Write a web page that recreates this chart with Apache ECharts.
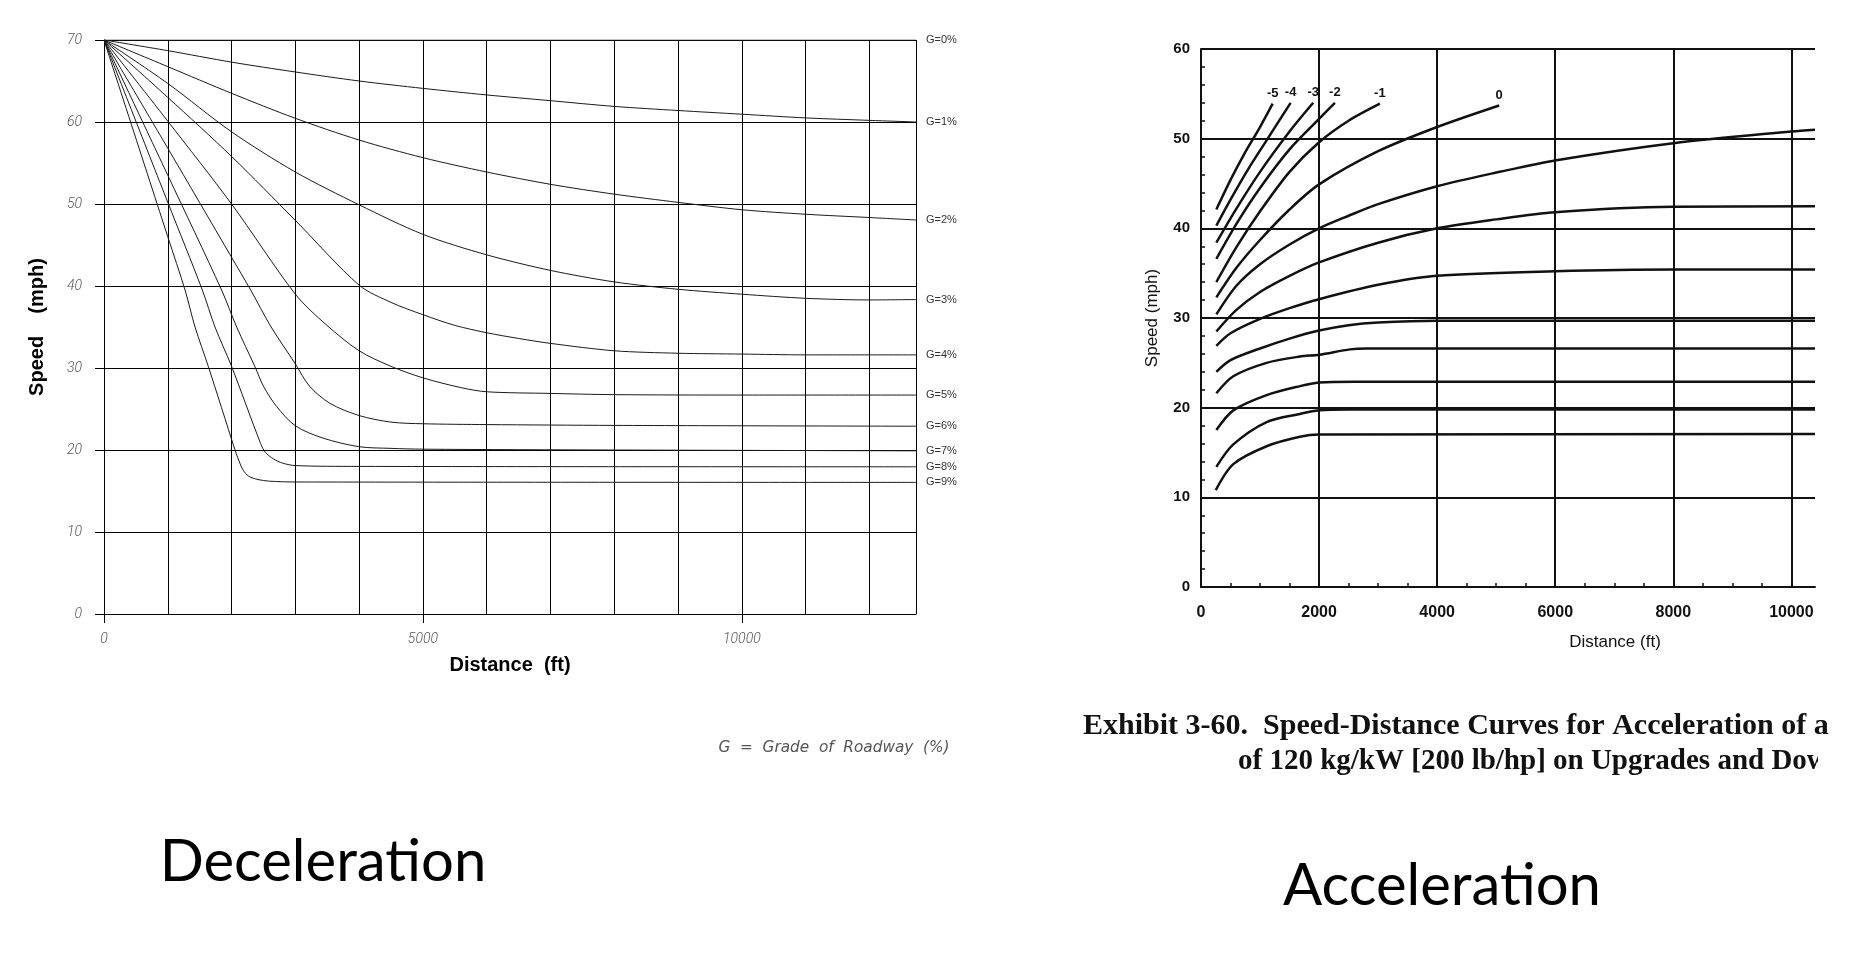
<!DOCTYPE html>
<html>
<head>
<meta charset="utf-8">
<script src="https://cdn.jsdelivr.net/npm/echarts@6/dist/echarts.min.js"></script>
<style>html,body{margin:0;padding:0;background:#fff}#c{width:1857px;height:953px}</style>
</head>
<body>
<div id="c"></div>
<script>
// ---------- Deceleration chart data (distance ft, speed mph) ----------
const decelLabelTicks = [0, 5000, 10000];
const decelNames = ['G=0%','G=1%','G=2%','G=3%','G=4%','G=5%','G=6%','G=7%','G=8%','G=9%'];
const decelG0 = [[0,70],[12730,70]];
const decelG1 = [[0,70],[1000,68.7],[2000,67.3],[3000,66.1],[4000,65.0],[5000,64.1],[6000,63.3],[7000,62.6],[8000,61.9],[9000,61.4],[10000,60.95],[11000,60.5],[12000,60.2],[12730,60.0]];
const decelG2 = [[0,70],[1000,66.75],[2000,63.5],[3000,60.45],[4000,57.8],[5000,55.65],[6000,53.9],[7000,52.4],[8000,51.2],[9000,50.2],[10000,49.3],[11000,48.75],[12000,48.35],[12730,48.05]];
const decelG3 = [[0,70],[1000,64.7],[2000,58.8],[3000,53.9],[4000,49.9],[5000,46.3],[6000,43.8],[7000,41.9],[8000,40.5],[9000,39.6],[10000,39.0],[11000,38.5],[12000,38.3],[12730,38.35]];
const decelG4 = [[0,70],[1000,63.0],[2000,55.8],[3000,48.0],[4000,40.1],[4500,38.0],[5000,36.5],[5500,35.2],[6000,34.3],[6500,33.6],[7000,33.0],[8000,32.1],[9000,31.8],[10000,31.7],[11000,31.6],[12730,31.6]];
const decelG5 = [[0,70],[1000,60.1],[2000,50.0],[3000,39.0],[3480,35.3],[4000,32.1],[4500,30.2],[5000,28.8],[5600,27.6],[6000,27.1],[7000,26.9],[8000,26.75],[10000,26.7],[12730,26.7]];
const decelG6 = [[0,70],[1000,56.8],[2000,43.5],[2300,39.5],[2620,35.0],[3000,30.5],[3220,27.8],[3540,25.7],[4000,24.2],[4500,23.4],[5000,23.2],[6000,23.1],[8000,23.0],[12730,22.9]];
const decelG7 = [[0,70],[1000,53.5],[1844,39.5],[2080,35.0],[2364,30.2],[2505,27.7],[2707,25.3],[3000,22.95],[3434,21.45],[4000,20.4],[4500,20.2],[5000,20.1],[8000,20.0],[12730,19.9]];
const decelG8 = [[0,70],[1000,50.2],[1542,39.5],[1740,35.0],[2000,30.2],[2455,20.8],[2530,19.7],[2660,18.9],[2800,18.4],[3000,18.1],[4000,18.0],[12730,17.95]];
const decelG9 = [[0,70],[1000,46.0],[1271,39.5],[1427,35.0],[1635,30.2],[2050,20.1],[2100,19.0],[2177,17.6],[2268,16.8],[2414,16.4],[2591,16.2],[3000,16.1],[12730,16.05]];

// ---------- Acceleration chart data (distance ft, speed mph) ----------
const accelLabels = ['-5','-4','-3','-2','-1','0'];
const accelM5 = [[260,42.1],[500,45.4],[750,48.5],[1000,51.3],[1214,53.9]];
const accelM4 = [[260,40.3],[500,43.2],[800,46.6],[1100,49.7],[1518,54.0]];
const accelM3 = [[260,38.4],[600,42.2],[1000,46.3],[1500,50.8],[1901,54.0]];
const accelM2 = [[260,36.6],[600,40.5],[1000,44.5],[1500,48.8],[2000,52.2],[2268,54.0]];
const accelM1 = [[260,34.0],[600,37.9],[1000,41.9],[1500,46.3],[2000,49.6],[2500,52.0],[3030,53.9]];
const accelZ0 = [[260,32.3],[600,35.6],[1000,38.7],[1500,42.1],[2000,44.9],[3000,48.6],[4000,51.3],[5050,53.7]];
const accelP1 = [[260,30.4],[600,33.6],[1000,36.0],[1500,38.2],[2000,40.0],[2500,41.4],[3000,42.7],[4000,44.7],[5060,46.3],[6020,47.6],[8000,49.5],[10000,50.8],[10400,51.0]];
const accelP2 = [[260,28.5],[600,30.9],[1000,32.9],[1500,34.7],[2000,36.2],[3000,38.4],[4000,40.0],[5000,41.0],[6000,41.8],[8000,42.4],[10400,42.45]];
const accelP3 = [[260,26.9],[500,28.3],[1000,29.9],[1500,31.1],[2000,32.1],[3000,33.7],[4000,34.7],[6000,35.2],[8000,35.4],[10400,35.4]];
const accelP4 = [[260,24.0],[500,25.3],[1000,26.6],[1500,27.7],[2000,28.6],[2500,29.2],[3000,29.5],[4000,29.7],[10400,29.7]];
const accelP5 = [[260,21.6],[547,23.5],[1112,25.0],[1676,25.7],[2000,25.9],[2523,26.5],[2805,26.6],[10400,26.6]];
const accelP6 = [[260,17.5],[547,19.7],[1112,21.4],[1676,22.4],[2000,22.8],[2600,22.9],[10400,22.9]];
const accelP7 = [[260,13.4],[547,15.9],[1112,18.4],[1676,19.3],[2000,19.7],[2500,19.8],[10400,19.8]];
const accelP8 = [[250,10.8],[547,13.7],[1112,15.7],[1676,16.75],[2000,17.0],[10400,17.05]];

// ---------- build ----------
const decelData = [decelG0,decelG1,decelG2,decelG3,decelG4,decelG5,decelG6,decelG7,decelG8,decelG9];
const accelLabeled = [accelM5,accelM4,accelM3,accelM2,accelM1,accelZ0];
const accelOthers = [accelP1,accelP2,accelP3,accelP4,accelP5,accelP6,accelP7,accelP8];

const series = [];
decelData.forEach((d,i) => {
  series.push({
    type:'line', name:decelNames[i], xAxisIndex:0, yAxisIndex:0, data:d,
    showSymbol:false, smooth:0.3, silent:true,
    lineStyle:{color:'#1a1a1a', width:1},
    endLabel:{show:true, formatter:() => decelNames[i], distance:10, color:'#333',
      fontSize:11, fontFamily:'Liberation Sans'}
  });
});
accelLabeled.forEach((d,i) => {
  series.push({
    type:'line', name:'grade ' + accelLabels[i], xAxisIndex:1, yAxisIndex:1, data:d,
    showSymbol:false, smooth:0.3, silent:true,
    lineStyle:{color:'#111', width:2.5},
    endLabel:{show:true, formatter:() => accelLabels[i], align:'center', verticalAlign:'bottom',
      distance:0, padding:[0,0,4,0], color:'#111', fontSize:13, fontWeight:'bold', fontFamily:'Liberation Sans'}
  });
});
accelOthers.forEach((d,i) => {
  series.push({
    type:'line', name:'grade +' + (i+1), xAxisIndex:1, yAxisIndex:1, data:d,
    showSymbol:false, smooth:0.3, silent:true,
    lineStyle:{color:'#111', width:2.5}
  });
});

const plain = v => String(v);
const lightLabel = {fontFamily:'Roboto', fontStyle:'italic', fontWeight:300, fontSize:14, color:'#555'};

const option = {
  animation:false,
  backgroundColor:'#fff',
  grid:[
    {left:104, top:40, width:812, height:574},
    {left:1201, top:49, width:614, height:538}
  ],
  xAxis:[
    {gridIndex:0, type:'value', min:0, max:12730, interval:1000,
     axisLine:{show:true, onZero:false, lineStyle:{color:'#000', width:1}},
     axisTick:{show:false}, axisLabel:{show:false},
     splitLine:{show:true, lineStyle:{color:'#000', width:1}},
     name:'Distance  (ft)', nameLocation:'middle', nameGap:41,
     nameTextStyle:{fontFamily:'Liberation Sans', fontWeight:'bold', fontSize:20, color:'#000'}},
    {gridIndex:1, type:'value', min:0, max:10400, interval:2000,
     axisLine:{show:true, onZero:false, lineStyle:{color:'#111', width:2}},
     axisTick:{show:false, inside:true},
     minorTick:{show:true, splitNumber:4, length:4, lineStyle:{color:'#111', width:1.5}},
     axisLabel:{margin:18, formatter:plain, fontFamily:'Liberation Sans', fontWeight:'bold', fontSize:16, color:'#111'},
     splitLine:{show:true, showMaxLine:false, lineStyle:{color:'#111', width:2}}},
    {gridIndex:0, type:'value', min:0, max:12730, interval:5000, position:'bottom',
     axisLine:{show:false},
     axisTick:{show:true, customValues:decelLabelTicks, length:9, lineStyle:{color:'#000', width:1}},
     axisLabel:Object.assign({customValues:decelLabelTicks, margin:18, formatter:plain}, lightLabel),
     splitLine:{show:false}}
  ],
  yAxis:[
    {gridIndex:0, type:'value', min:0, max:70, interval:10,
     axisLine:{show:true, onZero:false, lineStyle:{color:'#000', width:1}},
     axisTick:{show:true, length:9, lineStyle:{color:'#000', width:1}},
     axisLabel:Object.assign({margin:22}, lightLabel),
     splitLine:{show:true, lineStyle:{color:'#000', width:1}},
     name:'Speed    (mph)', nameLocation:'middle', nameGap:57,
     nameTextStyle:{fontFamily:'Liberation Sans', fontWeight:'bold', fontSize:20, color:'#000'}},
    {gridIndex:1, type:'value', min:0, max:60, interval:10,
     axisLine:{show:true, onZero:false, lineStyle:{color:'#111', width:2}},
     axisTick:{show:false, inside:true},
     minorTick:{show:true, splitNumber:5, length:4, lineStyle:{color:'#111', width:1.5}},
     axisLabel:{margin:11, fontFamily:'Liberation Sans', fontWeight:'bold', fontSize:15, color:'#111'},
     splitLine:{show:true, lineStyle:{color:'#111', width:2}},
     name:'Speed (mph)', nameLocation:'middle', nameGap:40,
     nameTextStyle:{fontFamily:'Liberation Sans', fontSize:17, color:'#111'}}
  ],
  series:series,
  graphic:[
    {type:'text', x:834, y:748, style:{text:'G  =  Grade  of  Roadway  (%)', font:'italic 15.3px "DejaVu Sans"',
      fill:'#555', align:'center', verticalAlign:'middle', textAlign:'center', textVerticalAlign:'middle'}},
    {type:'text', x:1615, y:642, style:{text:'Distance (ft)', font:'17px "Liberation Sans"',
      fill:'#111', align:'center', verticalAlign:'middle', textAlign:'center', textVerticalAlign:'middle'}},
    {type:'text', x:1083, y:726, style:{text:'Exhibit 3-60.  Speed-Distance Curves for Acceleration of a',
      font:'bold 30px "Liberation Serif"', fill:'#111', align:'left', verticalAlign:'middle', textAlign:'left', textVerticalAlign:'middle'}},
    {type:'text', x:1238, y:762, style:{text:'of 120 kg/kW [200 lb/hp] on Upgrades and Dow',
      font:'bold 29px "Liberation Serif"', fill:'#111', align:'left', verticalAlign:'middle', textAlign:'left', textVerticalAlign:'middle'}},
    {type:'rect', z:100, shape:{x:1818, y:740, width:39, height:45}, style:{fill:'#fff'}},
    {type:'text', x:323, y:862, style:{text:'Deceleration', font:'58px Lato',
      fill:'#000', align:'center', verticalAlign:'middle', textAlign:'center', textVerticalAlign:'middle'}},
    {type:'text', x:1442, y:886, style:{text:'Acceleration', font:'58px Lato',
      fill:'#000', align:'center', verticalAlign:'middle', textAlign:'center', textVerticalAlign:'middle'}}
  ]
};

const chart = echarts.init(document.getElementById('c'), null, {renderer:'canvas'});
chart.setOption(option);
</script>
</body>
</html>
